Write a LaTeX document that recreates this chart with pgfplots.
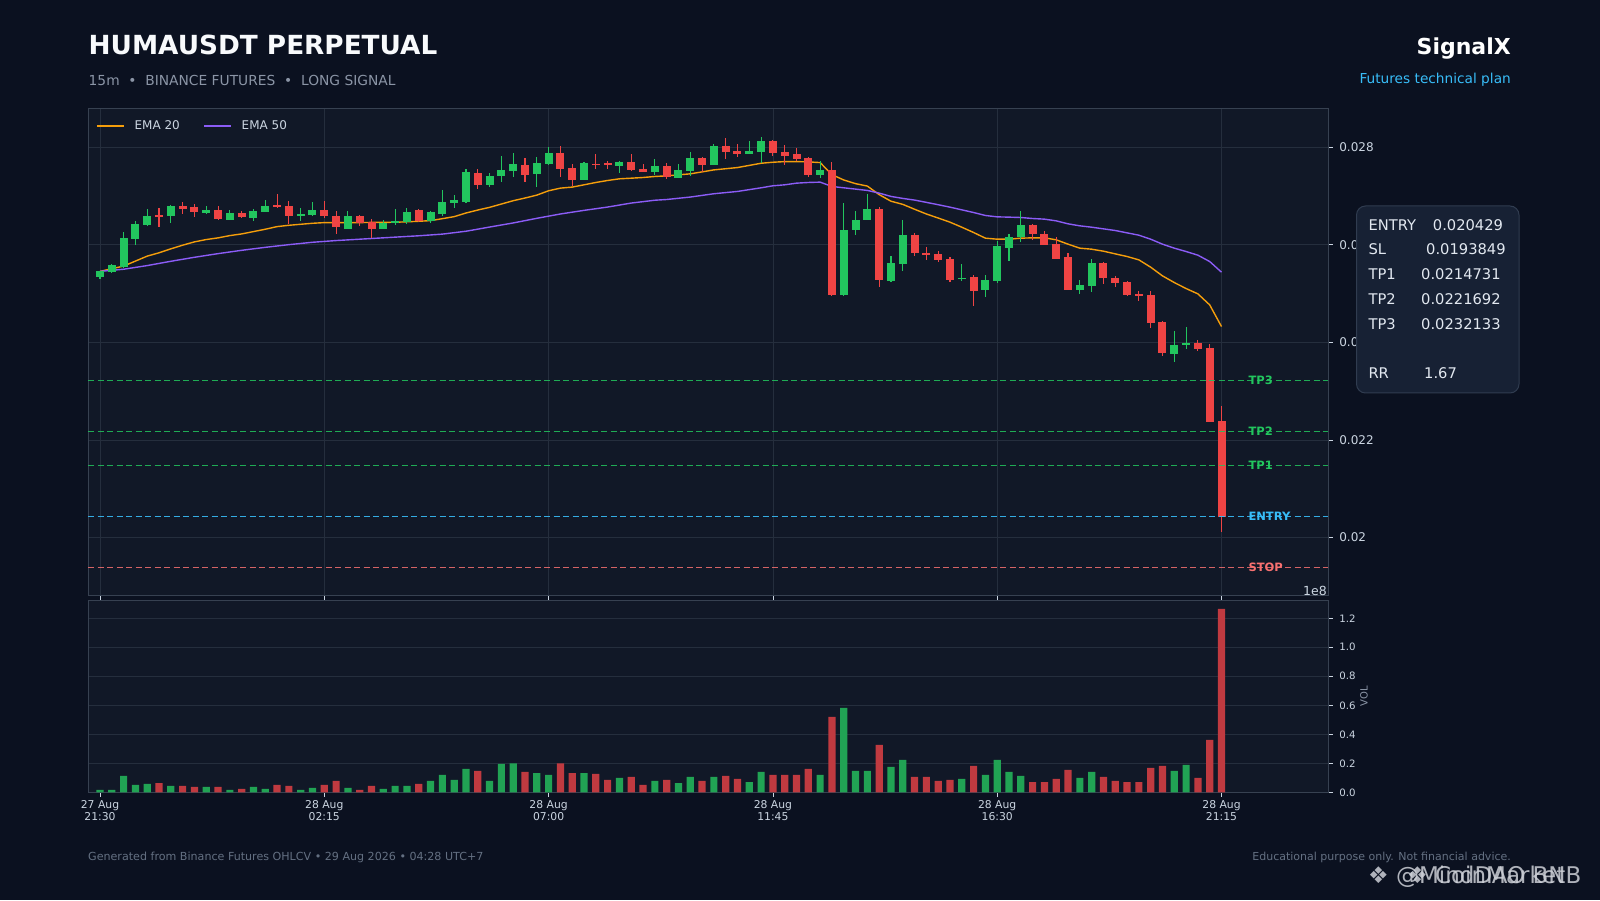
\documentclass[border=0pt]{standalone}
\usepackage{pgfplots}
\pgfplotsset{compat=1.18}
\usepackage{pgfplotstable}
\usepackage{fontspec}
\setmainfont{DejaVu Sans}

\definecolor{figbg}{RGB}{11,17,32}
\definecolor{axbg}{RGB}{17,24,39}
\definecolor{gridc}{RGB}{37,46,61}
\definecolor{spine}{RGB}{55,65,81}
\definecolor{cgreen}{RGB}{34,197,94}
\definecolor{cred}{RGB}{239,68,68}
\definecolor{vgreen}{RGB}{33,163,84}
\definecolor{vred}{RGB}{192,58,64}
\definecolor{ema20c}{RGB}{245,158,11}
\definecolor{ema50c}{RGB}{139,92,246}
\definecolor{entryc}{RGB}{56,189,248}
\definecolor{stopc}{RGB}{248,113,113}
\definecolor{ticktext}{RGB}{203,213,225}
\definecolor{subc}{RGB}{139,149,166}
\definecolor{footc}{RGB}{100,112,130}
\definecolor{boxfill}{RGB}{23,33,52}
\definecolor{boxdraw}{RGB}{48,60,80}
\definecolor{boxtext}{RGB}{226,232,240}
\definecolor{wmc}{RGB}{205,208,215}

% x o h l c v  (volume in units of 1e8)
\pgfplotstableread{
x o h l c v
0 0.025334 0.025470 0.025307 0.025457 0.016
1 0.025443 0.025600 0.025416 0.025586 0.016
2 0.025538 0.026266 0.025520 0.026137 0.113
3 0.026116 0.026497 0.026000 0.026436 0.051
4 0.026402 0.026735 0.026380 0.026599 0.058
6 0.026586 0.026810 0.026450 0.026803 0.044
9 0.026660 0.026790 0.026633 0.026722 0.037
11 0.026518 0.026708 0.026500 0.026660 0.016
13 0.026558 0.026735 0.026483 0.026701 0.037
14 0.026681 0.026926 0.026675 0.026803 0.023
17 0.026586 0.026756 0.026497 0.026640 0.016
18 0.026620 0.026878 0.026586 0.026708 0.030
21 0.026334 0.026701 0.026330 0.026599 0.030
24 0.026334 0.026518 0.026320 0.026450 0.023
25 0.026443 0.026735 0.026409 0.026484 0.044
26 0.026463 0.026749 0.026429 0.026681 0.044
28 0.026497 0.026701 0.026450 0.026667 0.078
29 0.026633 0.027116 0.026586 0.026871 0.120
30 0.026851 0.027014 0.026756 0.026912 0.085
31 0.026871 0.027565 0.026865 0.027504 0.161
33 0.027232 0.027470 0.027177 0.027415 0.078
34 0.027402 0.027830 0.027293 0.027538 0.196
35 0.027517 0.027878 0.027388 0.027660 0.200
37 0.027463 0.027810 0.027184 0.027680 0.133
38 0.027660 0.028000 0.027640 0.027884 0.120
41 0.027334 0.027690 0.027320 0.027680 0.133
44 0.027619 0.027710 0.027483 0.027700 0.099
47 0.027497 0.027755 0.027429 0.027619 0.078
49 0.027381 0.027653 0.027370 0.027538 0.064
50 0.027517 0.027898 0.027415 0.027782 0.106
52 0.027646 0.028068 0.027640 0.028027 0.106
55 0.027871 0.028136 0.027860 0.027918 0.071
56 0.027905 0.028218 0.027674 0.028129 0.140
61 0.027442 0.027728 0.027361 0.027538 0.120
63 0.024974 0.026858 0.024960 0.026314 0.582
64 0.026300 0.026701 0.026205 0.026518 0.147
65 0.026518 0.027048 0.026510 0.026742 0.147
67 0.025253 0.025763 0.025240 0.025620 0.175
68 0.025600 0.026518 0.025470 0.026212 0.223
73 0.025303 0.025603 0.025268 0.025323 0.092
75 0.025084 0.025378 0.024926 0.025282 0.120
76 0.025268 0.026089 0.025220 0.025980 0.223
77 0.025945 0.026226 0.025672 0.026164 0.140
78 0.026157 0.026704 0.026055 0.026410 0.113
83 0.025084 0.025275 0.024988 0.025173 0.099
84 0.025159 0.025706 0.025029 0.025631 0.140
91 0.023771 0.024229 0.023607 0.023949 0.147
92 0.023955 0.024318 0.023860 0.023990 0.189
}\up

\pgfplotstableread{
x o h l c v
5 0.026606 0.026756 0.026361 0.026586 0.064
7 0.026803 0.026885 0.026633 0.026742 0.044
8 0.026776 0.026837 0.026565 0.026667 0.037
10 0.026722 0.026796 0.026518 0.026538 0.037
12 0.026647 0.026701 0.026550 0.026565 0.023
15 0.026824 0.027048 0.026762 0.026783 0.051
16 0.026803 0.026905 0.026436 0.026586 0.044
19 0.026708 0.026905 0.026545 0.026599 0.051
20 0.026599 0.026701 0.026225 0.026361 0.078
22 0.026599 0.026620 0.026382 0.026443 0.016
23 0.026463 0.026520 0.026144 0.026334 0.044
27 0.026708 0.026735 0.026470 0.026497 0.058
32 0.027483 0.027551 0.027143 0.027232 0.147
36 0.027640 0.027776 0.027279 0.027436 0.140
39 0.027884 0.028027 0.027388 0.027565 0.200
40 0.027578 0.027660 0.027211 0.027320 0.133
42 0.027667 0.027864 0.027551 0.027646 0.127
43 0.027674 0.027728 0.027551 0.027633 0.085
45 0.027700 0.027864 0.027520 0.027538 0.106
46 0.027558 0.027660 0.027490 0.027497 0.051
48 0.027619 0.027674 0.027347 0.027381 0.085
51 0.027782 0.027800 0.027490 0.027646 0.078
53 0.028027 0.028184 0.027769 0.027912 0.113
54 0.027925 0.028068 0.027810 0.027871 0.092
57 0.028129 0.028150 0.027830 0.027884 0.120
58 0.027905 0.028041 0.027640 0.027823 0.120
59 0.027871 0.027980 0.027714 0.027762 0.120
60 0.027782 0.027800 0.027388 0.027442 0.161
62 0.027538 0.027694 0.024954 0.024974 0.520
66 0.026742 0.026776 0.025144 0.025273 0.327
69 0.026212 0.026240 0.025770 0.025824 0.106
70 0.025824 0.025946 0.025688 0.025803 0.106
71 0.025820 0.025880 0.025650 0.025695 0.078
72 0.025713 0.025747 0.025248 0.025282 0.085
74 0.025344 0.025378 0.024755 0.025063 0.182
79 0.026410 0.026431 0.026103 0.026232 0.071
80 0.026226 0.026294 0.025990 0.026000 0.071
81 0.026021 0.026171 0.025700 0.025713 0.092
82 0.025754 0.025829 0.025080 0.025084 0.154
85 0.025631 0.025650 0.025207 0.025323 0.106
86 0.025323 0.025364 0.025145 0.025220 0.078
87 0.025241 0.025250 0.024960 0.024974 0.071
88 0.024995 0.025056 0.024851 0.024967 0.071
89 0.024974 0.025056 0.024290 0.024400 0.168
90 0.024420 0.024440 0.023716 0.023784 0.182
93 0.023990 0.024051 0.023832 0.023873 0.099
94 0.023887 0.023962 0.022370 0.022376 0.361
95 0.022391 0.022700 0.020110 0.020429 1.265
}\down

\pgfplotstableread{
x e
0 0.025456
1 0.025510
2 0.025565
3 0.025667
4 0.025769
5 0.025837
6 0.025918
7 0.025993
8 0.026061
9 0.026109
10 0.026143
11 0.026190
12 0.026224
13 0.026272
14 0.026320
15 0.026374
16 0.026401
17 0.026422
18 0.026442
19 0.026456
20 0.026456
21 0.026456
22 0.026456
23 0.026460
25 0.026463
27 0.026483
28 0.026497
29 0.026537
30 0.026578
31 0.026653
32 0.026714
33 0.026769
34 0.026837
35 0.026905
36 0.026960
37 0.027020
38 0.027109
39 0.027163
40 0.027184
41 0.027231
42 0.027279
43 0.027320
44 0.027354
45 0.027367
46 0.027381
47 0.027402
48 0.027415
50 0.027456
52 0.027537
54 0.027585
56 0.027673
57 0.027694
58 0.027707
59 0.027707
60 0.027701
61 0.027687
62 0.027440
63 0.027330
64 0.027255
65 0.027205
66 0.027030
67 0.026895
68 0.026830
69 0.026730
70 0.026633
71 0.026550
72 0.026465
73 0.026362
74 0.026253
75 0.026137
76 0.026116
77 0.026116
78 0.026137
79 0.026144
80 0.026144
81 0.026103
82 0.026014
83 0.025932
84 0.025911
85 0.025870
86 0.025815
87 0.025761
88 0.025692
89 0.025542
90 0.025364
91 0.025227
92 0.025104
93 0.024995
94 0.024769
95 0.024324
}\emaA

\pgfplotstableread{
x e
0 0.025456
2 0.025500
4 0.025575
6 0.025663
8 0.025745
10 0.025820
12 0.025888
14 0.025949
16 0.026004
18 0.026053
20 0.026088
22 0.026116
23 0.026130
25 0.026158
27 0.026186
29 0.026220
31 0.026279
33 0.026365
35 0.026449
37 0.026544
39 0.026633
41 0.026707
43 0.026775
45 0.026857
47 0.026915
48 0.026930
50 0.026980
52 0.027048
54 0.027095
56 0.027170
57 0.027211
58 0.027231
59 0.027265
60 0.027279
61 0.027286
62 0.027197
63 0.027170
64 0.027143
65 0.027116
66 0.027061
67 0.026993
68 0.026952
69 0.026918
70 0.026871
71 0.026823
72 0.026773
73 0.026718
74 0.026663
75 0.026602
76 0.026574
77 0.026568
78 0.026561
79 0.026540
80 0.026527
81 0.026492
82 0.026431
83 0.026390
84 0.026362
85 0.026328
86 0.026294
87 0.026246
88 0.026198
89 0.026116
90 0.026014
91 0.025932
92 0.025863
93 0.025788
94 0.025658
95 0.025439
}\emaB

\newcommand{\candles}[2]{%
  \addplot[draw=none, mark=none, forget plot,
    error bars/.cd, y dir=both, y explicit, error mark=none,
    error bar style={draw=#2, line width=1.1pt, solid}]
    table[x=x, y expr={(\thisrow{h}+\thisrow{l})/2}, y error expr={(\thisrow{h}-\thisrow{l})/2}] {#1};
  \addplot[draw=none, mark=none, forget plot,
    error bars/.cd, y dir=both, y explicit, error mark=none,
    error bar style={draw=#2, line width=8pt, solid}]
    table[x=x, y expr={(\thisrow{o}+\thisrow{c})/2}, y error expr={max(abs(\thisrow{c}-\thisrow{o})/2,0.000011)}] {#1};
}

\begin{document}
\begin{tikzpicture}[x=1pt,y=1pt]
\fill[figbg] (0pt,0pt) rectangle (1600pt,900pt);
\useasboundingbox (0pt,0pt) rectangle (1600pt,900pt);

% header
\node[anchor=base west, inner sep=0pt, text={rgb,255:red,248;green,250;blue,252}, font=\fontsize{26.3}{30}\selectfont\bfseries] at (88.5pt,845pt) {HUMAUSDT PERPETUAL};
\node[anchor=base west, inner sep=0pt, text=subc, font=\fontsize{13.8}{16}\selectfont] at (88.5pt,814pt) {15m\ \ •\ \ BINANCE FUTURES\ \ •\ \ LONG SIGNAL};
\node[anchor=base east, inner sep=0pt, text=white, font=\fontsize{22}{26}\selectfont\bfseries] at (1511pt,845.7pt) {SignalX};
\node[anchor=base east, inner sep=0pt, text=entryc, font=\fontsize{13.7}{16}\selectfont] at (1511pt,816.7pt) {Futures technical plan};

% price panel
\begin{axis}[
  at={(88pt,304.4pt)}, anchor=south west,
  width=1240pt, height=487.4pt, scale only axis,
  xmin=-1.0165, xmax=104.02, ymin=0.018808, ymax=0.028802,
  axis background/.style={fill=axbg},
  axis line style={draw=spine, line width=0.9pt},
  xtick={0,19,38,57,76,95}, xticklabels={},
  ytick={0.020,0.022,0.024,0.026,0.028},
  yticklabels={0.02,0.022,0.024,0.026,0.028},
  scaled y ticks=false,
  xtick pos=bottom, ytick pos=right, yticklabel pos=right,
  tick align=outside, major tick length=4.5pt,
  tick style={draw=ticktext, line width=0.8pt},
  grid=major, grid style={draw=gridc, line width=0.8pt},
  yticklabel style={font=\fontsize{12}{14}\selectfont, text=ticktext, anchor=west, inner sep=0pt, xshift=6.6pt},
  legend columns=2,
  legend style={at={(axis description cs:0,1)}, anchor=north west, xshift=5pt, yshift=-8.5pt,
    draw=none, fill=none, font=\fontsize{12}{14}\selectfont, text=ticktext,
    /tikz/every odd column/.append style={column sep=8pt},
    /tikz/every even column/.append style={column sep=21.5pt}},
  legend image code/.code={\draw[#1, line width=1.4pt] (0pt,0pt) -- (27pt,0pt);},
]
\addplot[ema20c, line width=1.4pt] table[x=x, y=e] {\emaA};
\addlegendentry{EMA 20}
\addplot[ema50c, line width=1.4pt] table[x=x, y=e] {\emaB};
\addlegendentry{EMA 50}

\candles{\up}{cgreen}
\candles{\down}{cred}

% level labels
\node[anchor=west, inner sep=0pt, text=cgreen, font=\fontsize{11.5}{13}\selectfont\bfseries] at (axis cs:97.27,0.0232133) {TP3};
\node[anchor=west, inner sep=0pt, text=cgreen, font=\fontsize{11.5}{13}\selectfont\bfseries] at (axis cs:97.27,0.0221692) {TP2};
\node[anchor=west, inner sep=0pt, text=cgreen, font=\fontsize{11.5}{13}\selectfont\bfseries] at (axis cs:97.27,0.0214731) {TP1};
\node[anchor=west, inner sep=0pt, text=entryc, font=\fontsize{11.5}{13}\selectfont\bfseries] at (axis cs:97.27,0.020429) {ENTRY};
\node[anchor=west, inner sep=0pt, text=stopc, font=\fontsize{11.5}{13}\selectfont\bfseries] at (axis cs:97.27,0.0193849) {STOP};

% level lines
\addplot[cgreen, opacity=0.85, line width=1.4pt, dash pattern=on 6pt off 3.5pt, forget plot] coordinates {(-1.0165,0.0232133) (104.02,0.0232133)};
\addplot[cgreen, opacity=0.85, line width=1.4pt, dash pattern=on 6pt off 3.5pt, forget plot] coordinates {(-1.0165,0.0221692) (104.02,0.0221692)};
\addplot[cgreen, opacity=0.85, line width=1.4pt, dash pattern=on 6pt off 3.5pt, forget plot] coordinates {(-1.0165,0.0214731) (104.02,0.0214731)};
\addplot[entryc, opacity=0.9, line width=1.4pt, dash pattern=on 6pt off 3.5pt, forget plot] coordinates {(-1.0165,0.020429) (104.02,0.020429)};
\addplot[stopc, opacity=0.85, line width=1.4pt, dash pattern=on 6pt off 3.5pt, forget plot] coordinates {(-1.0165,0.0193849) (104.02,0.0193849)};
\end{axis}

% volume panel
\begin{axis}[
  at={(88pt,107.7pt)}, anchor=south west,
  width=1240pt, height=192.3pt, scale only axis,
  xmin=-1.0165, xmax=104.02, ymin=0, ymax=1.326,
  axis background/.style={fill=axbg},
  axis line style={draw=spine, line width=0.9pt},
  xtick={0,19,38,57,76,95},
  xticklabels={{27 Aug\\21:30},{28 Aug\\02:15},{28 Aug\\07:00},{28 Aug\\11:45},{28 Aug\\16:30},{28 Aug\\21:15}},
  xticklabel style={align=center, font=\fontsize{10.8}{12}\selectfont, text=ticktext},
  ytick={0,0.2,0.4,0.6,0.8,1.0,1.2},
  yticklabels={0.0,0.2,0.4,0.6,0.8,1.0,1.2},
  scaled y ticks=false,
  xtick pos=bottom, ytick pos=right, yticklabel pos=right,
  tick align=outside, major tick length=4.5pt,
  tick style={draw=ticktext, line width=0.8pt},
  ymajorgrids, grid style={draw=gridc, line width=0.8pt},
  yticklabel style={font=\fontsize{10.2}{12}\selectfont, text=ticktext, anchor=west, inner sep=0pt, xshift=6.6pt},
]
\addplot[ybar, bar width=7.2pt, bar shift=0pt, fill=vgreen, draw=none] table[x=x, y=v] {\up};
\addplot[ybar, bar width=7.2pt, bar shift=0pt, fill=vred, draw=none] table[x=x, y=v] {\down};
\end{axis}

\node[anchor=base east, inner sep=0pt, text=ticktext, font=\fontsize{12.5}{14}\selectfont] at (1327pt,304pt) {1e8};
\node[rotate=90, inner sep=0pt, text=subc, font=\fontsize{10}{12}\selectfont] at (1364pt,204pt) {VOL};

% info box
\draw[fill=boxfill, draw=boxdraw, line width=1pt, rounded corners=9pt] (1356.5pt,694pt) rectangle (1519pt,507pt);
\begin{scope}[every node/.style={anchor=base west, inner sep=0pt, text=boxtext, font=\fontsize{14.7}{17}\selectfont}]
\node at (1368.3pt,669.7pt) {ENTRY}; \node at (1432.7pt,669.7pt) {0.020429};
\node at (1368.3pt,645pt) {SL};      \node at (1426pt,645pt) {0.0193849};
\node at (1368.3pt,620pt) {TP1};     \node at (1421pt,620pt) {0.0214731};
\node at (1368.3pt,595.7pt) {TP2};   \node at (1421pt,595.7pt) {0.0221692};
\node at (1368.3pt,570.7pt) {TP3};   \node at (1421pt,570.7pt) {0.0232133};
\node at (1368.3pt,521.7pt) {RR};    \node at (1424pt,521.7pt) {1.67};
\end{scope}

% footer
\node[anchor=base west, inner sep=0pt, text=footc, font=\fontsize{11.1}{13}\selectfont] at (88pt,40pt) {Generated from Binance Futures OHLCV • 29 Aug 2026 • 04:28 UTC+7};
\node[anchor=base east, inner sep=0pt, text=footc, font=\fontsize{11}{13}\selectfont] at (1511pt,40pt) {Educational purpose only. Not financial advice.};

% watermark
\node[anchor=base west, inner sep=0pt, text=wmc, opacity=0.85, font=\fontsize{23}{26}\selectfont] at (1368pt,17pt) {❖ @MindDAO BNB};
\node[anchor=base west, inner sep=0pt, text=wmc, opacity=0.85, font=\fontsize{23}{26}\selectfont] at (1407pt,17pt) {❖ CoinMarket};
\end{tikzpicture}
\end{document}
